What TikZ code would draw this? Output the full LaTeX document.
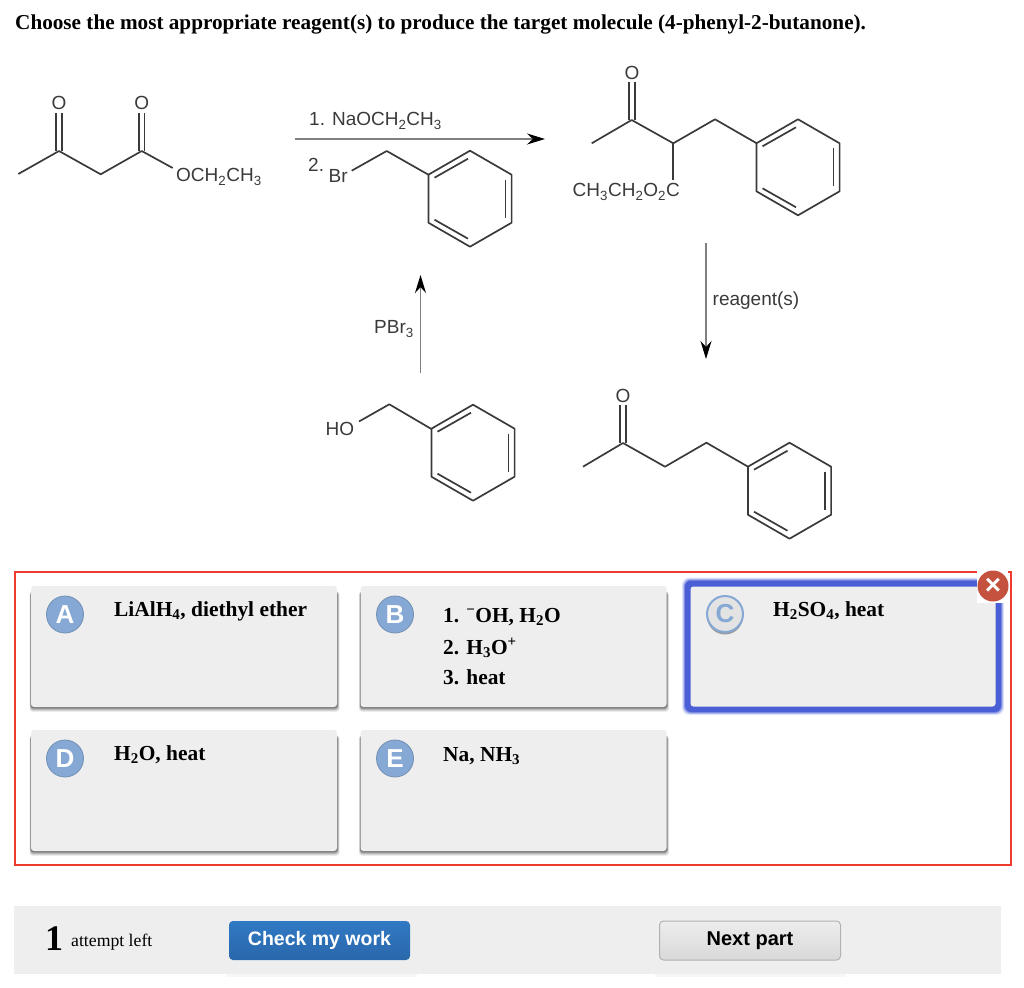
\documentclass[tikz,border=0pt]{standalone}
\usepackage{fontspec}
\setmainfont{Liberation Serif}
\setsansfont{Liberation Sans}
\usetikzlibrary{arrows.meta,shadows}

\definecolor{bondgray}{HTML}{3A3A3A}
\definecolor{shaftgray}{HTML}{808080}
\definecolor{panelred}{HTML}{F03A2E}
\definecolor{cardgray}{HTML}{EEEEEE}
\definecolor{badgeblue}{HTML}{85A8D4}
\definecolor{glowblue}{HTML}{4A5FD6}
\definecolor{closered}{HTML}{C4523F}
\definecolor{checktop}{HTML}{3079C4}
\definecolor{checkbot}{HTML}{2A67AB}

\tikzset{
  bond/.style={draw=bondgray, line width=1.7pt, line join=round},
  chem/.style={font=\sffamily\fontsize{19}{22}\selectfont, text=bondgray, inner sep=0pt},
  reaction/.style={draw=shaftgray, line width=1.7pt, -{Stealth[black,length=18pt,width=11pt]}},
  choicecard/.style={fill=cardgray, rounded corners=3pt, minimum width=306pt, minimum height=121pt, inner sep=0pt},
  badge/.style={circle, fill=badgeblue, draw=badgeblue!85!black, line width=0.8pt, minimum size=37pt, inner sep=0pt,
    text=white, font=\sffamily\bfseries\fontsize{26}{28}\selectfont},
  answer/.style={anchor=base west, inner sep=0pt, font=\bfseries\fontsize{21.4}{24}\selectfont},
  formbutton/.style={rounded corners=4pt, minimum width=181pt, minimum height=39pt, inner sep=0pt,
    font=\sffamily\bfseries\fontsize{20}{24}\selectfont}
}

\newcommand{\sub}[1]{\textsubscript{#1}}

\newcommand{\phenylring}[2]{
  \begin{scope}[shift={(#1,#2)}]
    \draw[bond] (0,-48) -- (41.6,-24) -- (41.6,24) -- (0,48) -- (-41.6,24) -- (-41.6,-24) -- cycle;
    \draw[bond] (-35.5,-21) -- (-2,-40);
    \draw[bond] (35.5,-19) -- (35.5,19);
    \draw[bond] (-35.5,21) -- (-2,40);
  \end{scope}
}

\begin{document}
\begin{tikzpicture}[x=1pt,y=-1pt]
\useasboundingbox (0,0) rectangle (1024,987);

\node (title) [anchor=base west, inner sep=0pt, font=\bfseries\fontsize{21.2}{24}\selectfont] at (15,30)
  {Choose the most appropriate reagent(s) to produce the target molecule (4-phenyl-2-butanone).};

% ketoester
\draw[bond] (18.3,174) -- (59,151) -- (100.7,174.3) -- (141.7,151) -- (172.7,168);
\draw[bond] (56,151) -- (56,113);
\draw[bond] (61.7,151) -- (61.7,113);
\draw[bond] (139,151) -- (139,113);
\draw[bond] (144.5,151) -- (144.5,113);
\node (oxoa) [chem] at (59,103.3) {O};
\node (oxob) [chem] at (141.7,103.3) {O};
\node (ester) [chem,anchor=west] at (176,177) {OCH\sub{2}CH\sub{3}};

% first reaction
\coordinate (alkylstart) at (294.5,139);
\coordinate (alkylend) at (545,139);
\draw[reaction] (alkylstart) -- (alkylend);
\node (baselabel) [chem,anchor=west] at (309,121) {1. NaOCH\sub{2}CH\sub{3}};
\node (steplabel) [chem,anchor=west] at (308,165) {2.};
\node (brlabel) [chem,anchor=west] at (328.5,176) {Br};
\draw[bond] (351.7,170.7) -- (386.7,151) -- (428.4,174.7);
\phenylring{470}{198.7}

% alkylated product
\draw[bond] (591.7,143.3) -- (631.7,120) -- (673.3,143.3) -- (715,119.3) -- (756.7,143.3);
\draw[bond] (673.3,143.3) -- (673.3,180);
\draw[bond] (629,120) -- (629,82);
\draw[bond] (635,120) -- (635,82);
\node (oxoc) [chem] at (632,72.5) {O};
\node (esterb) [chem,anchor=east] at (680,192) {CH\sub{3}CH\sub{2}O\sub{2}C};
\phenylring{798}{167.3}

% benzyl alcohol
\coordinate (pbrstart) at (420.5,373);
\coordinate (pbrend) at (420.5,275);
\draw[reaction] (pbrstart) -- (pbrend);
\node (pbrlabel) [chem,anchor=west] at (374,329) {PBr\sub{3}};
\node (holabel) [chem,anchor=west] at (325.5,429) {HO};
\draw[bond] (359,421.5) -- (389.3,404.3) -- (431.4,429);
\phenylring{473}{452.7}

% target
\coordinate (redstart) at (706,243);
\coordinate (redend) at (706,359);
\draw[reaction] (redstart) -- (redend);
\node (redlabel) [chem,anchor=west] at (712.5,301) {reagent(s)};
\draw[bond] (583,466.7) -- (623,443) -- (665,466.7) -- (706.4,442.7) -- (748,466.7);
\draw[bond] (620.2,443) -- (620.2,405);
\draw[bond] (626.2,443) -- (626.2,405);
\node (oxod) [chem] at (623,396) {O};
\phenylring{789.5}{490.7}

% answer panel
\draw[panelred, line width=2.5pt] (15,572) rectangle (1011,865);

% soft shadows
\foreach \cx/\cy in {184/646.5,513.5/646.5,184/790.5,513.5/790.5}
  \foreach \g/\o in {5/0.06,4/0.1,3/0.14,2/0.18,1/0.22}
    \fill[black, opacity=\o, rounded corners=3pt] (\cx-153-\g*0.3,\cy-55) rectangle (\cx+153+\g*0.5,\cy+60.5+\g);

\node (carda) [choicecard] at (184,646.5) {};
\node (cardb) [choicecard] at (513.5,646.5) {};
\node (cardd) [choicecard] at (184,790.5) {};
\node (carde) [choicecard] at (513.5,790.5) {};

% selected card
\foreach \g/\o in {3/0.15,2/0.3,1/0.5}
  \fill[glowblue, opacity=\o, rounded corners=7pt] (685-\g,580.5-\g) rectangle (1001+\g,712+\g);
\fill[glowblue, rounded corners=6pt] (685,580.5) rectangle (1001,712);
\node (cardc) [fill=cardgray, rounded corners=3pt, minimum width=305pt, minimum height=120pt, inner sep=0pt] at (843,646.5) {};

\node (bada) [badge] at (65,614.5) {A};
\node (badb) [badge] at (395,614.5) {B};
\node (badd) [badge] at (65,758.5) {D};
\node (bade) [badge] at (395,758.5) {E};
\node (badc) [badge, fill=black!11, draw=badgeblue, line width=2pt, text=badgeblue, minimum size=36pt,
  drop shadow={shadow xshift=0pt, shadow yshift=-2.5pt, fill=black, opacity=0.35}] at (725,614) {C};

\node (texta) [answer] at (114,616) {LiAlH\sub{4}, diethyl ether};
\node (textb) [answer] at (443,622) {1. \textsuperscript{−}OH, H\sub{2}O};
\node (textbb) [answer] at (443,654) {2. H\sub{3}O\textsuperscript{+}};
\node (textbc) [answer] at (443,684) {3. heat};
\node (textc) [answer] at (773,616) {H\sub{2}SO\sub{4}, heat};
\node (textd) [answer] at (114,760) {H\sub{2}O, heat};
\node (texte) [answer] at (443,761) {Na, NH\sub{3}};

% close button
\fill[white] (977,570) rectangle (1008,603);
\node (closebtn) [circle, fill=closered, inner sep=0pt, minimum size=31pt, text=white,
  font=\sffamily\bfseries\fontsize{28}{30}\selectfont] at (993,586) {×};

% bottom bar
\fill[black!3] (226,974) rectangle (417,977);
\fill[black!3] (655,974) rectangle (846,977);
\fill[cardgray] (14,906) rectangle (1001,974);
\node (count) [anchor=base west, inner sep=0pt, font=\bfseries\fontsize{36}{40}\selectfont] at (45,950) {1};
\node (attempts) [anchor=base west, inner sep=0pt, font=\fontsize{17.7}{20}\selectfont] at (71,946) {attempt left};
\node (checkbtn) [formbutton, top color=checktop, bottom color=checkbot, text=white, font=\sffamily\bfseries\fontsize{19.5}{24}\selectfont] at (319.5,940.5) {Check my work};
\node (nextbtn) [formbutton, draw=black!30, line width=1pt, top color=black!7, bottom color=black!15, text=black] at (750,940.5) {Next part};

\end{tikzpicture}
\end{document}
